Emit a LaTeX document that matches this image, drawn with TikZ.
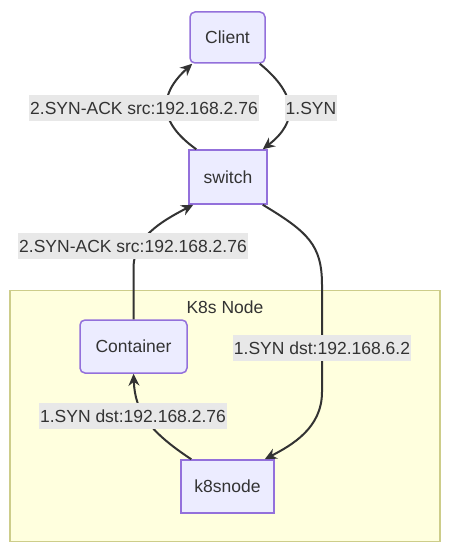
\documentclass[tikz,border=0pt]{standalone}
\usepackage{fontspec}
\setmainfont{Liberation Sans}
\usetikzlibrary{arrows.meta}
\definecolor{nodefill}{HTML}{ECECFF}
\definecolor{nodeline}{HTML}{9370DB}
\definecolor{clusterfill}{HTML}{FFFFDE}
\definecolor{clusterline}{HTML}{CDCD8A}
\definecolor{edgecol}{HTML}{333333}
\definecolor{lblfill}{HTML}{E8E8E8}
\definecolor{txtcol}{HTML}{333333}
\tikzset{
  box/.style={draw=nodeline, fill=nodefill, line width=1.5pt, text=txtcol,
    font=\fontsize{17.5}{20}\selectfont, inner sep=0pt},
  rbox/.style={box, rounded corners=5pt},
  lbl/.style={fill=lblfill, text=txtcol, font=\fontsize{17.5}{20}\selectfont,
    inner sep=1pt, minimum height=26pt},
  edge/.style={draw=edgecol, line width=2pt, -{Stealth[length=12pt,width=11pt]}},
}
\begin{document}
\begin{tikzpicture}[x=1pt,y=-1pt]
\useasboundingbox (0,0) rectangle (474,556);
\fill[white] (0,0) rectangle (474,556);
\node[draw=clusterline, fill=clusterfill, line width=1.5pt, minimum width=430pt, minimum height=251pt, inner sep=0pt] (cl) at (225,416) {};
\node[text=txtcol, font=\fontsize{17.5}{20}\selectfont] (cltitle) at (225,307) {K8s Node};
\node[rbox, minimum width=75pt, minimum height=51pt] (client) at (227.5,37.5) {Client};
\node[box, minimum width=78pt, minimum height=54pt] (sw) at (228,177) {switch};
\node[rbox, minimum width=107pt, minimum height=53pt] (cont) at (133.5,346.5) {Container};
\node[box, minimum width=93pt, minimum height=53pt] (k8) at (227.5,486.5) {k8snode};
% edges
\draw[edge] ([xshift=8pt]sw.north west) .. controls (158,122) and (158,95) .. ([xshift=3pt]client.south west);
\draw[edge] ([xshift=-6pt]client.south east) .. controls (298,95) and (298,122) .. ([xshift=-5pt]sw.north east);
\draw[edge] (cont.north) -- (133.5,268) .. controls (133.5,238) and (160,222) .. ([xshift=5pt]sw.south west);
\draw[edge] ([xshift=-5pt]sw.south east) .. controls (308,232) and (322,245) .. (322,285) -- (322,392) .. controls (322,428) and (292,445) .. ([xshift=-10pt]k8.north east);
\draw[edge] ([xshift=11pt]k8.north west) .. controls (150,432) and (135,412) .. (cont.south);
% labels
\node[lbl] (l1) at (144,108) {2.SYN-ACK src:192.168.2.76};
\node[lbl] (l2) at (311,108) {1.SYN};
\node[lbl] (l3) at (133,246) {2.SYN-ACK src:192.168.2.76};
\node[lbl] (l4) at (322,348) {1.SYN dst:192.168.6.2};
\node[lbl] (l5) at (133,416) {1.SYN dst:192.168.2.76};
\end{tikzpicture}
\end{document}
